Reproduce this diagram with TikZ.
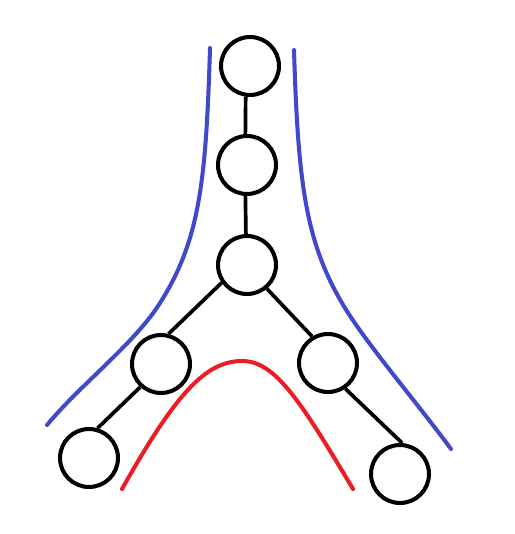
\documentclass[tikz,border=0pt]{standalone}
\usepackage{tikz}
\usetikzlibrary{positioning}
\usepackage{xcolor}
\definecolor{Blue}{HTML}{4048CC}
\definecolor{Red}{HTML}{ED1C24}

\begin{document}
\begin{tikzpicture}[x=0.02cm, y=-0.02cm,
    vert/.style={draw=black, circle, line width=2.3pt, inner sep=0pt,
      minimum size=1.16cm},
    link/.style={draw=black, line width=2.1pt},
    band/.style={line width=2.3pt, line cap=round}]
  \useasboundingbox (0,0) rectangle (514,534);
  % tree
  \node[vert] (top) at (250,66) {};
  \node[vert] (mid) at (247,165) {};
  \node[vert] (fork) at (247,265) {};
  \node[vert] (lft) at (161,364) {};
  \node[vert] (rgt) at (328,363) {};
  \node[vert] (lleaf) at (89,458) {};
  \node[vert] (rleaf) at (400,474) {};
  \draw[link] (top.262) -- (mid.93);
  \draw[link] (mid.267) -- (fork.92);
  \draw[link] (fork.215) -- (lft.76);
  \draw[link] (fork.310) -- (rgt.121);
  \draw[link] (lft.228) -- (lleaf.74);
  \draw[link] (rgt.304) -- (rleaf.86);
  % outer curves
  \draw[band, Blue] (210,48) .. controls (206,180) and (200,240) .. (160,303)
    .. controls (135,343) and (80,385) .. (47,425);
  \draw[band, Blue] (294,50) .. controls (298,180) and (305,240) .. (342,303)
    .. controls (364,341) and (415,400) .. (451,449);
  % inner curve
  \draw[band, Red] (122,489) .. controls (175,395) and (205,361) .. (242,361)
    .. controls (275,361) and (300,400) .. (353,489);
\end{tikzpicture}
\end{document}
